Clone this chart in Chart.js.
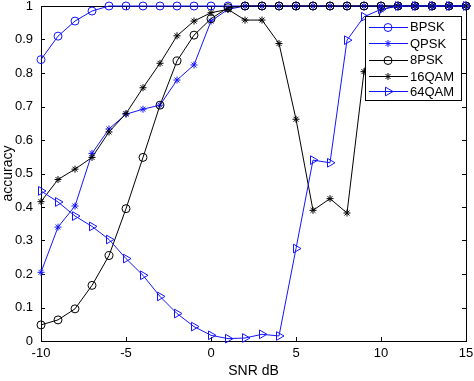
<!DOCTYPE html>
<html>
<head>
<meta charset="utf-8">
<script src="https://cdn.jsdelivr.net/npm/chart.js@4"></script>
<style>
html,body{margin:0;padding:0;background:#fff;}
#wrap{width:474px;height:381px;position:relative;}
</style>
</head>
<body>
<div id="wrap"><canvas id="c" width="474" height="381"></canvas></div>
<script>
const snr = [-10,-9,-8,-7,-6,-5,-4,-3,-2,-1,0,1,2,3,4,5,6,7,8,9,10,11,12,13,14,15];
const bpsk  = [0.84,0.91,0.955,0.985,1,1,1,1,1,1,1,1,1,1,1,1,1,1,1,1,1,1,1,1,1,1];
const qpsk  = [0.205,0.34,0.403,0.56,0.633,0.677,0.692,0.704,0.779,0.824,0.955,0.99,1,1,1,1,1,1,1,1,1,1,1,1,1,1];
const psk8  = [0.048,0.063,0.096,0.166,0.255,0.395,0.548,0.704,0.836,0.913,0.962,0.995,1,1,1,1,1,1,1,1,1,1,1,1,1,1];
const qam16 = [0.416,0.482,0.513,0.548,0.624,0.679,0.756,0.829,0.911,0.955,0.98,0.99,0.958,0.958,0.888,0.662,0.39,0.425,0.382,0.804,0.99,1,1,1,1,1];
const qam64 = [0.448,0.415,0.373,0.342,0.303,0.246,0.196,0.133,0.082,0.043,0.017,0.007,0.009,0.02,0.015,0.276,0.54,0.532,0.898,0.968,0.99,1,1,1,1,1];
const seriesNames = ['BPSK','QPSK','8PSK','16QAM','64QAM'];
const xTicks = [-10,-5,0,5,10,15];
const yTicks = [0,0.1,0.2,0.3,0.4,0.5,0.6,0.7,0.8,0.9,1];

const BLUE = '#1414ff';
const BLACK = '#000000';
const styles = [
  {color:BLUE, point:'circle', r:4, rot:0},
  {color:BLUE, point:'star', r:3.5, rot:0},
  {color:BLACK, point:'circle', r:4, rot:0},
  {color:BLACK, point:'star', r:3.5, rot:0},
  {color:BLUE, point:'triangle', r:5, rot:90}
];
const allData = [bpsk,qpsk,psk8,qam16,qam64];
const datasets = allData.map((arr,i)=>({
  label: seriesNames[i],
  data: arr.map((v,j)=>({x:snr[j], y:v})),
  borderColor: styles[i].color,
  backgroundColor: 'rgba(0,0,0,0)',
  pointBackgroundColor: 'rgba(0,0,0,0)',
  pointBorderColor: styles[i].color,
  pointStyle: styles[i].point,
  pointRadius: styles[i].r,
  pointRotation: styles[i].rot,
  pointBorderWidth: 1,
  borderWidth: 1,
  tension: 0,
  clip: false
}));
datasets.reverse();

const FONT = 'Liberation Sans, Arial, sans-serif';

const frame = {
  id:'frame',
  beforeDatasetsDraw(chart){
    const ctx = chart.ctx, a = chart.chartArea;
    const xs = chart.scales.x, ys = chart.scales.y;
    ctx.save();
    ctx.strokeStyle = '#000';
    ctx.lineWidth = 1;
    ctx.strokeRect(Math.round(a.left)+0.5, Math.round(a.top)+0.5, Math.round(a.right-a.left), Math.round(a.bottom-a.top));
    ctx.beginPath();
    xTicks.forEach(v=>{
      const px = Math.round(xs.getPixelForValue(v))+0.5;
      ctx.moveTo(px, a.bottom); ctx.lineTo(px, a.bottom-4);
      ctx.moveTo(px, a.top); ctx.lineTo(px, a.top+4);
    });
    yTicks.forEach(v=>{
      const py = Math.round(ys.getPixelForValue(v))+0.5;
      ctx.moveTo(a.left, py); ctx.lineTo(a.left+4, py);
      ctx.moveTo(a.right, py); ctx.lineTo(a.right-4, py);
    });
    ctx.stroke();
    ctx.restore();
  },
  afterDraw(chart){
    const ctx = chart.ctx, a = chart.chartArea;
    ctx.save();
    ctx.fillStyle = '#000';
    ctx.font = '14px ' + FONT;
    ctx.textAlign = 'center';
    ctx.textBaseline = 'middle';
    ctx.fillText('SNR dB', (a.left+a.right)/2, 371);
    ctx.translate(8, (a.top+a.bottom)/2);
    ctx.rotate(-Math.PI/2);
    ctx.fillText('accuracy', 0, 0);
    ctx.restore();

    // legend
    ctx.save();
    const bx = 365.5, by = 16.5, bw = 96, bh = 84;
    ctx.fillStyle = '#fff';
    ctx.fillRect(bx, by, bw, bh);
    ctx.strokeStyle = '#000';
    ctx.lineWidth = 1;
    ctx.strokeRect(bx, by, bw, bh);
    const rows = [26.7, 43.3, 59.5, 76, 91];
    seriesNames.forEach((name,i)=>{
      const y = rows[i];
      const st = styles[i];
      ctx.strokeStyle = st.color;
      ctx.lineWidth = 1;
      ctx.beginPath();
      ctx.moveTo(369, Math.round(y)+0.5);
      ctx.lineTo(408, Math.round(y)+0.5);
      ctx.stroke();
      ctx.fillStyle = 'rgba(0,0,0,0)';
      ctx.strokeStyle = st.color;
      Chart.helpers.drawPoint(ctx, {pointStyle: st.point, rotation: st.rot, radius: st.r, borderWidth:1}, 388, Math.round(y)+0.5);
      ctx.fillStyle = '#000';
      ctx.font = '13px ' + FONT;
      ctx.textAlign = 'left';
      ctx.textBaseline = 'middle';
      ctx.fillText(name, 410, y+1);
    });
    ctx.restore();
  }
};

new Chart(document.getElementById('c'), {
  type: 'line',
  data: { datasets },
  options: {
    responsive: false,
    animation: false,
    devicePixelRatio: 1,
    layout: { padding: { top: 6, right: 8, bottom: 0, left: 0 } },
    plugins: { legend: { display: false }, tooltip: { enabled: false } },
    scales: {
      x: {
        type: 'linear', min: -10, max: 15,
        afterBuildTicks(s){ s.ticks = xTicks.map(v=>({value:v})); },
        afterFit(s){ s.height = 40; s.paddingLeft = 0; s.paddingRight = 0; },
        grid: { display: true, drawOnChartArea: false, drawTicks: false, color: 'rgba(0,0,0,0)' },
        border: { display: false },
        ticks: { color: '#000', font: { family: FONT, size: 13 }, padding: 5, maxRotation: 0, autoSkip: false },
      },
      y: {
        type: 'linear', min: 0, max: 1,
        afterBuildTicks(s){ s.ticks = yTicks.map(v=>({value:v})); },
        afterFit(s){ s.width = 41; s.paddingTop = 0; s.paddingBottom = 0; },
        grid: { display: true, drawOnChartArea: false, drawTicks: false, color: 'rgba(0,0,0,0)' },
        border: { display: false },
        ticks: { color: '#000', font: { family: FONT, size: 13 }, padding: 8, autoSkip: false,
          callback: v => String(Math.round(v*10)/10) },
      }
    }
  },
  plugins: [frame]
});
</script>
</body>
</html>
